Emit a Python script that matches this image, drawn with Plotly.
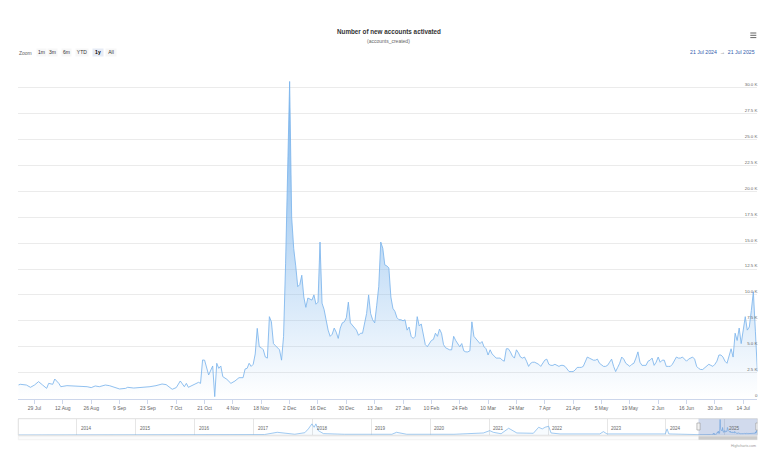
import pandas as pd
import plotly.graph_objects as go

W, H = 768, 452


def px(x):
    return x / W


def py(y):
    return 1 - y / H


# ---------------- data ----------------
title_text = "Number of new accounts activated"
subtitle_text = "(accounts_created)"

# sparse readings, Jul - mid Nov 2024
early_dates = [
    "2024-07-21", "2024-07-22", "2024-07-25", "2024-07-27", "2024-07-29", "2024-07-31",
    "2024-08-02", "2024-08-04", "2024-08-05", "2024-08-07", "2024-08-08", "2024-08-10",
    "2024-08-11", "2024-08-14", "2024-08-17", "2024-08-20", "2024-08-24", "2024-08-26",
    "2024-08-28", "2024-08-30", "2024-09-02", "2024-09-04", "2024-09-07", "2024-09-09",
    "2024-09-12", "2024-09-13", "2024-09-16", "2024-09-19", "2024-09-21", "2024-09-24",
    "2024-09-27", "2024-09-30", "2024-10-02", "2024-10-04", "2024-10-05", "2024-10-07",
    "2024-10-09", "2024-10-11", "2024-10-12", "2024-10-13", "2024-10-15", "2024-10-18",
    "2024-10-19", "2024-10-20", "2024-10-21", "2024-10-22", "2024-10-23", "2024-10-25",
    "2024-10-26", "2024-10-27", "2024-10-28", "2024-10-29", "2024-10-30", "2024-11-01",
    "2024-11-03", "2024-11-05", "2024-11-07", "2024-11-09", "2024-11-10", "2024-11-11",
]
early_values = [
    1300, 1370, 1300, 1080, 1300, 1630,
    1300, 980, 1460, 1370, 1880, 1460,
    1140, 1240, 1210, 1210, 1140, 1050,
    1210, 1140, 1300, 1240, 1050, 920,
    980, 1080, 1010, 1050, 1140, 1140,
    1240, 1400, 1340, 1050, 890, 1050,
    1690, 1140, 1460, 1080, 1300, 1560,
    1460, 3720, 3700, 2910, 2270, 3140,
    180, 3400, 2910, 3140, 2110, 1850,
    1460, 1690, 2010, 2010, 2850, 2910,
]

# daily readings from 12 Nov 2024 to 21 Jul 2025
daily_start = "2024-11-12"
daily_values = [
    # Nov 12-30
    3400, 3100, 3300, 4300, 6770, 5000, 4900, 4700, 4000, 3900, 7900, 7400, 5300, 5100,
    4900, 4700, 3700, 6000, 13000,
    # Dec
    22000, 30600, 17500, 14500, 12800, 10800, 11000, 11900, 9800, 8800, 9700, 9600, 9500,
    10000, 9100, 9300, 15100, 9200, 8600, 7600, 6600, 6000, 6200, 6800, 6400, 5800, 6800,
    7300, 7400, 7800, 9300,
    # Jan
    7300, 7100, 6900, 6600, 6100, 6300, 6300, 7200, 8200, 10000, 8200, 7600, 7300, 9000,
    10800, 15100, 14500, 12900, 12800, 12600, 9800, 8700, 8400, 7800, 7600, 7600, 7500,
    7600, 6600, 6900, 6000,
    # Feb
    5800, 6000, 7900, 7000, 7200, 6100, 5200, 5000, 5300, 5600, 5700, 6300, 6000, 6700,
    6300, 5200, 4900, 4800, 4700, 4700, 6000, 5600, 5300, 5000, 5300, 4600, 4500, 4500,
    # Mar
    4600, 7400, 6000, 5800, 5600, 5300, 5500, 5000, 4800, 4200, 4700, 4300, 4100, 3900,
    3900, 3900, 3700, 3600, 4800, 4800, 4500, 4100, 3900, 4700, 4400, 4000, 3900, 4000,
    3600, 3100, 3400,
    # Apr
    3500, 3500, 3400, 3300, 3100, 3400, 3700, 3800, 3300, 3200, 3200, 3300, 3200, 3100,
    3200, 3200, 3100, 2800, 2600, 2600, 2600, 2750, 3000, 3000, 3000, 3100, 3500, 4000,
    3900, 3800,
    # May
    3700, 3700, 3800, 3400, 3200, 3100, 3100, 3200, 3500, 3800, 3100, 2600, 3000, 3400,
    4000, 3800, 3400, 3200, 3100, 3300, 3400, 3900, 4500, 3500, 3200, 3200, 3200, 3600,
    3700, 3900, 3200,
    # Jun
    3500, 4000, 3500, 3700, 3700, 3100, 3100, 3100, 3300, 3600, 4000, 3900, 3900, 4000,
    3800, 3600, 3800, 3900, 4000, 3800, 3100, 2900, 2800, 2800, 3000, 3200, 3300, 3200,
    3100, 3300,
    # Jul 1-21
    3600, 4200, 4200, 4000, 3600, 3400, 4100, 4800, 4000, 6300, 5600, 6800, 5300, 6500,
    7900, 6600, 6900, 8500, 10300, 6500, 2600,
]

# navigator history before the selected year (coarse readings)
nav_hist_dates = [
    "2013-01-03", "2013-06-01", "2014-01-12", "2014-10-05", "2015-09-24", "2016-10-19",
    "2017-03-10", "2017-05-27", "2017-09-13", "2017-11-14", "2017-12-06", "2017-12-28",
    "2018-01-11", "2018-01-22", "2018-02-06", "2018-03-10", "2018-07-19", "2019-05-08",
    "2019-06-06", "2019-08-08", "2020-05-27", "2020-11-25", "2021-01-04", "2021-01-26",
    "2021-03-15", "2021-05-01", "2021-05-23", "2021-06-21", "2021-10-01", "2021-11-03",
    "2021-11-25", "2021-12-13", "2022-01-04", "2022-01-19", "2022-03-15", "2022-11-17",
    "2022-12-09", "2023-01-01", "2023-12-28", "2024-01-08", "2024-01-19", "2024-05-27",
    "2024-07-20",
]
nav_hist_values = [
    600, 800, 1300, 700, 800, 2000,
    1500, 5800, 2000, 5000, 12300, 22000,
    15500, 22000, 9000, 3200, 1950, 1950,
    5800, 1950, 1950, 4500, 9000, 5800,
    3000, 13600, 9000, 4500, 3900, 15500,
    12300, 15500, 17500, 4500, 2600, 2600,
    7100, 2600, 2600, 12300, 2600, 2600,
    1300,
]
nav_years = [2014, 2015, 2016, 2017, 2018, 2019, 2020, 2021, 2022, 2023, 2024, 2025]

y_tick_vals = [0, 2500, 5000, 7500, 10000, 12500, 15000, 17500, 20000, 22500,
               25000, 27500, 30000, 32500]
y_tick_text = ["0", "2.5 K", "5.0 K", "7.5 K", "10.0 K", "12.5 K", "15.0 K", "17.5 K",
               "20.0 K", "22.5 K", "25.0 K", "27.5 K", "30.0 K", ""]

zoom_buttons = ["1m", "3m", "6m", "YTD", "1y", "All"]
selected_button = "1y"
range_from, range_to = "21 Jul 2024", "21 Jul 2025"
credits_text = "Highcharts.com"

# ---------------- build ----------------
dates = list(pd.to_datetime(early_dates)) + list(
    pd.date_range(daily_start, periods=len(daily_values), freq="D"))
values = early_values + daily_values

nav_dates = list(pd.to_datetime(nav_hist_dates)) + dates
nav_values = nav_hist_values + values

x_ticks = pd.date_range("2024-07-29", "2025-07-21", freq="14D")

FONT = "Liberation Sans, Arial, sans-serif"

fig = go.Figure()
fig.add_trace(go.Scatter(
    x=dates, y=values, mode="lines", xaxis="x", yaxis="y",
    line=dict(color="rgba(124,181,236,0.85)", width=1),
    fill="tozeroy",
    fillgradient=dict(type="vertical", start=0, stop=max(values),
                      colorscale=[[0, "rgba(124,181,236,0.0)"],
                                  [1, "rgba(124,181,236,1.0)"]]),
    hoverinfo="skip", showlegend=False,
))
fig.add_trace(go.Scatter(
    x=nav_dates, y=nav_values, mode="lines", xaxis="x2", yaxis="y2",
    line=dict(color="rgba(124,181,236,0.9)", width=0.8),
    fill="tozeroy", fillcolor="rgba(124,181,236,0.06)",
    hoverinfo="skip", showlegend=False,
))
# invisible carrier trace for the label axis
fig.add_trace(go.Scatter(x=[dates[0]], y=[0], xaxis="x", yaxis="y3", mode="markers",
                         marker=dict(opacity=0), hoverinfo="skip", showlegend=False))

X0, X1 = 18.3, 757.4
NAV_TOP, NAV_BOT = 418.7, 435.3
Y_BOT, Y_TOP = 398.5, 61.8

fig.update_layout(
    width=W, height=H,
    margin=dict(l=0, r=0, t=0, b=0),
    paper_bgcolor="white", plot_bgcolor="white",
    font=dict(family=FONT, color="#666666", size=5),
    xaxis=dict(
        domain=[px(X0), px(X1)], anchor="y", type="date",
        range=["2024-07-21", "2025-07-21"],
        tickmode="array", tickvals=list(x_ticks),
        ticktext=[d.strftime("%-d %b") for d in x_ticks],
        ticklabeloverflow="allow",
        ticks="outside", ticklen=4, tickwidth=1, tickcolor="#ccd6eb",
        showline=True, linecolor="#ccd6eb", linewidth=1,
        showgrid=False, zeroline=False,
        tickfont=dict(size=5, color="#666666", family=FONT),
    ),
    yaxis=dict(
        domain=[py(Y_BOT), py(Y_TOP)], anchor="x", side="right",
        range=[0, 32500], tickmode="array", tickvals=y_tick_vals,
        showticklabels=False,
        showgrid=True, gridcolor="#ebebeb", gridwidth=1,
        showline=False, zeroline=False, ticks="",
    ),
    yaxis3=dict(
        overlaying="y", anchor="free", position=px(X1), side="left",
        range=[0, 32500], tickmode="array",
        tickvals=y_tick_vals, ticktext=y_tick_text,
        ticklabelposition="outside top", ticks="", ticklen=0,
        showgrid=False, showline=False, zeroline=False,
        tickfont=dict(size=4.4, color="#666666", family=FONT),
    ),
    xaxis2=dict(
        domain=[px(X0), px(X1)], anchor="y2", type="date",
        range=["2013-01-03", "2025-07-21"],
        tick0="2014-01-01", dtick="M12",
        showticklabels=False,
        ticks="", showgrid=True, gridcolor="#e6e6e6", gridwidth=1,
        showline=False, zeroline=False,
    ),
    yaxis2=dict(
        domain=[py(NAV_BOT), py(NAV_TOP)], anchor="x2",
        range=[0, 32000], showgrid=False, showticklabels=False,
        zeroline=False, showline=False, ticks="",
    ),
)

shapes = []
# navigator outline
shapes.append(dict(type="rect", xref="paper", yref="paper",
                   x0=px(X0), x1=px(X1), y0=py(NAV_BOT), y1=py(NAV_TOP),
                   line=dict(color="#d6d6d6", width=0.8), fillcolor="rgba(0,0,0,0)",
                   layer="above"))
# scrollbar track
shapes.append(dict(type="rect", xref="paper", yref="paper",
                   x0=px(X0), x1=px(X1), y0=py(439.7), y1=py(436.3),
                   line=dict(color="#ececec", width=0.6), fillcolor="#fbfbfb",
                   layer="above"))
# scrollbar thumb
shapes.append(dict(type="rect", xref="x2", yref="paper",
                   x0="2024-07-21", x1="2025-07-21", y0=py(439.7), y1=py(436.3),
                   line=dict(width=0), fillcolor="#cccccc", layer="above"))
# navigator mask
shapes.append(dict(type="rect", xref="x2", yref="paper",
                   x0="2024-07-21", x1="2025-07-21", y0=py(NAV_BOT), y1=py(NAV_TOP),
                   line=dict(width=0), fillcolor="rgba(102,133,194,0.3)", layer="above"))
# handles
for anchor in ["2024-07-21", "2025-07-21"]:
    shapes.append(dict(type="rect", xref="x2", yref="paper", xsizemode="pixel",
                       xanchor=anchor, x0=-1.6, x1=1.6, y0=py(430), y1=py(423),
                       line=dict(color="#999999", width=0.6), fillcolor="#f2f2f2",
                       layer="above"))
# hamburger menu icon
for yy in (33.0, 35.3, 37.6):
    shapes.append(dict(type="line", xref="paper", yref="paper",
                       x0=px(750.3), x1=px(756.3), y0=py(yy), y1=py(yy),
                       line=dict(color="#666666", width=1)))
fig.update_layout(shapes=shapes)

ann = []
ann.append(dict(text="<b>%s</b>" % title_text, x=px(388.5), y=py(31), xref="paper",
                yref="paper", showarrow=False, xanchor="center", yanchor="middle",
                font=dict(size=6.3, color="#333333", family=FONT)))
ann.append(dict(text=subtitle_text, x=px(388.5), y=py(40.7), xref="paper",
                yref="paper", showarrow=False, xanchor="center", yanchor="middle",
                font=dict(size=5, color="#666666", family=FONT)))
ann.append(dict(text="Zoom", x=px(17), y=py(52.7), xref="paper", yref="paper",
                showarrow=False, xanchor="left", yanchor="middle",
                font=dict(size=5, color="#666666", family=FONT)))
btn_centers = [41.5, 52.8, 66.8, 82.0, 98.0, 111.0]
btn_widths = [9, 9, 9, 12, 10, 10]
for label, cx, bw in zip(zoom_buttons, btn_centers, btn_widths):
    sel = label == selected_button
    ann.append(dict(
        text=("<b>%s</b>" % label) if sel else label,
        x=px(cx), y=py(52.7), xref="paper", yref="paper", showarrow=False,
        xanchor="center", yanchor="middle", width=bw, height=6.6, borderpad=0,
        bgcolor="#e6ebf5" if sel else "#f7f7f7",
        font=dict(size=5, color="#000000" if sel else "#333333", family=FONT)))
ann.append(dict(
    text="<span style='color:#335cad'>%s</span>  \u2192  <span style='color:#335cad'>%s</span>"
         % (range_from, range_to),
    x=px(757), y=py(52.3), xref="paper", yref="paper", showarrow=False,
    xanchor="right", yanchor="middle",
    font=dict(size=5.2, color="#666666", family=FONT)))
ann.append(dict(text=credits_text, x=px(757.5), y=py(446), xref="paper", yref="paper",
                showarrow=False, xanchor="right", yanchor="middle",
                font=dict(size=3.6, color="#999999", family=FONT)))
# navigator year labels
for yr in nav_years:
    ann.append(dict(text=str(yr), x="%d-01-01" % yr, xref="x2", y=py(428), yref="paper",
                    showarrow=False, xanchor="left", yanchor="middle", xshift=2,
                    font=dict(size=4.5, color="#666666", family=FONT)))
fig.update_layout(annotations=ann)

fig.write_html("out.html", config={"displayModeBar": False},
               post_script="document.body.style.margin='0px';")
